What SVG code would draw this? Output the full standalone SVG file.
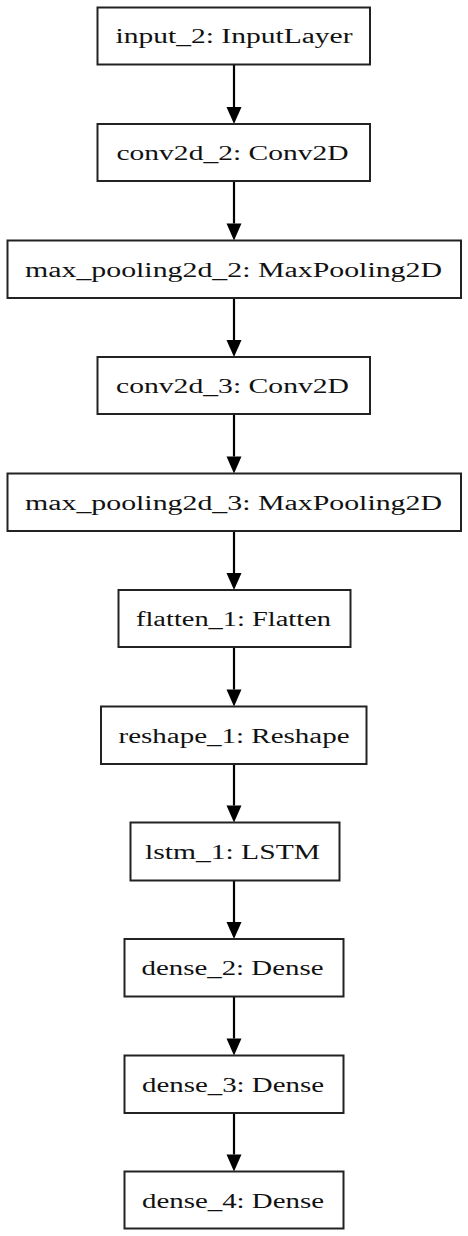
<svg xmlns="http://www.w3.org/2000/svg" width="468" height="1236" viewBox="0 0 468 1236">
<style>
.box{fill:#fff;stroke:#222;stroke-width:2}
.lbl{font-family:"Liberation Serif","Times New Roman",serif;font-size:20px;fill:#111;text-anchor:middle}
.edge{stroke:#000;stroke-width:2.2;fill:none;marker-end:url(#ah)}
</style>
<defs>
<marker id="ah" markerUnits="userSpaceOnUse" viewBox="0 -7.5 17 15" refX="0" refY="0" markerWidth="17" markerHeight="15" orient="auto" overflow="visible">
<path d="M0,-7.5 L17,0 L0,7.5 Z" fill="#000"/>
</marker>
</defs>
<rect width="468" height="1236" fill="#fff"/>
<g id="connectors">
<path class="edge" d="M234,64.5 V107"/>
<path class="edge" d="M234,181 V223.5"/>
<path class="edge" d="M234,298 V340"/>
<path class="edge" d="M234,414 V456.5"/>
<path class="edge" d="M234,531 V573"/>
<path class="edge" d="M234,647 V689.5"/>
<path class="edge" d="M234,764 V805.5"/>
<path class="edge" d="M234,880.5 V922"/>
<path class="edge" d="M234,996.5 V1038.5"/>
<path class="edge" d="M234,1113 V1154.5"/>
</g>
<g id="input_2"><rect class="box" x="97.5" y="7.5" width="272.5" height="57"/><text class="lbl" x="234" y="43" textLength="237" lengthAdjust="spacingAndGlyphs">input_2: InputLayer</text></g>
<g id="conv2d_2"><rect class="box" x="97.5" y="124" width="272.5" height="57"/><text class="lbl" x="232.5" y="160" textLength="232" lengthAdjust="spacingAndGlyphs">conv2d_2: Conv2D</text></g>
<g id="max_pooling2d_2"><rect class="box" x="7.5" y="240.5" width="453.5" height="57.5"/><text class="lbl" x="233.5" y="276.5" textLength="417" lengthAdjust="spacingAndGlyphs">max_pooling2d_2: MaxPooling2D</text></g>
<g id="conv2d_3"><rect class="box" x="97.5" y="357" width="272.5" height="57"/><text class="lbl" x="232.5" y="393" textLength="233" lengthAdjust="spacingAndGlyphs">conv2d_3: Conv2D</text></g>
<g id="max_pooling2d_3"><rect class="box" x="7.5" y="473.5" width="453.5" height="57.5"/><text class="lbl" x="233.5" y="509.5" textLength="417" lengthAdjust="spacingAndGlyphs">max_pooling2d_3: MaxPooling2D</text></g>
<g id="flatten_1"><rect class="box" x="118.5" y="590" width="232" height="57"/><text class="lbl" x="233.5" y="626" textLength="195" lengthAdjust="spacingAndGlyphs">flatten_1: Flatten</text></g>
<g id="reshape_1"><rect class="box" x="101" y="706.5" width="265.5" height="57.5"/><text class="lbl" x="234" y="742.5" textLength="231" lengthAdjust="spacingAndGlyphs">reshape_1: Reshape</text></g>
<g id="lstm_1"><rect class="box" x="130.5" y="822.5" width="209" height="58"/><text class="lbl" x="232.5" y="859" textLength="175" lengthAdjust="spacingAndGlyphs">lstm_1: LSTM</text></g>
<g id="dense_2"><rect class="box" x="124.5" y="939" width="219" height="57.5"/><text class="lbl" x="232.5" y="975" textLength="182" lengthAdjust="spacingAndGlyphs">dense_2: Dense</text></g>
<g id="dense_3"><rect class="box" x="124.5" y="1055.5" width="219" height="57.5"/><text class="lbl" x="233" y="1091.5" textLength="182" lengthAdjust="spacingAndGlyphs">dense_3: Dense</text></g>
<g id="dense_4"><rect class="box" x="124.5" y="1171.5" width="219" height="57"/><text class="lbl" x="233" y="1207.5" textLength="182" lengthAdjust="spacingAndGlyphs">dense_4: Dense</text></g>
</svg>
